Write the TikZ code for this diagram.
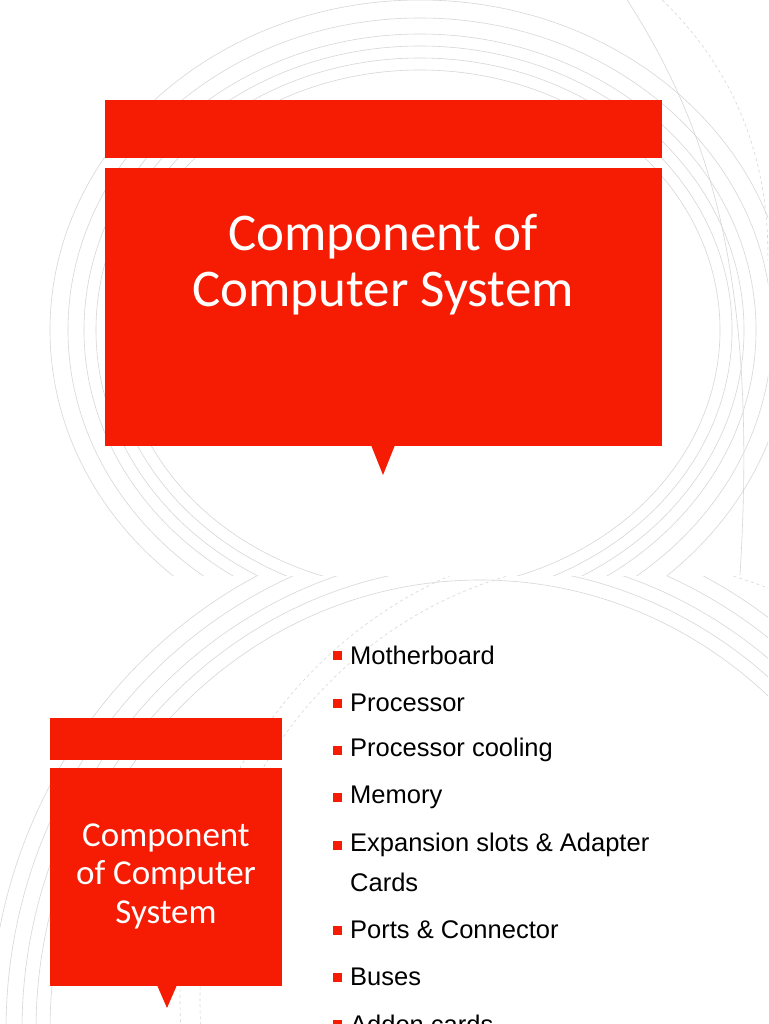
\documentclass[tikz,border=0pt]{standalone}
\usepackage{fontspec}
\setmainfont{Liberation Sans}
\newfontfamily\titlefont{Carlito}
\definecolor{slidered}{RGB}{246,28,4}
\definecolor{curve}{RGB}{215,215,215}
\begin{document}
\begin{tikzpicture}[x=1pt,y=-1pt,
  redbox/.style={fill=slidered,draw=none},
  bg/.style={draw=curve,line width=0.6pt},
  bullet/.style={anchor=west,font=\fontsize{25.5}{30}\selectfont,inner sep=0pt},
  sq/.style={fill=slidered,minimum size=9pt,inner sep=0pt}]
\useasboundingbox (0,0) rectangle (768,1024);
\fill[white] (0,0) rectangle (768,1024);
% background curves top slide
\begin{scope}
\clip (0,0) rectangle (768,575);
\foreach \r in {0,12,24,36,52,70}{
  \draw[bg] (420,330) ellipse ({300+\r} and {260+\r});
}
\draw[bg] (600,-40) .. controls (700,100) and (760,250) .. (740,575);
\draw[bg,dashed] (640,-20) .. controls (760,80) and (768,200) .. (768,260);
\end{scope}
% background curves bottom slide
\begin{scope}
\clip (0,576) rectangle (768,1024);
\foreach \r in {0,14,28,44,60}{
  \draw[bg] (480,1030) ellipse ({430+\r} and {450+\r});
}
\foreach \r in {0,20}{
  \draw[bg,dashed] (620,1000) ellipse ({420+\r} and {440+\r});
}
\end{scope}
% top slide
\node[redbox,minimum width=557,minimum height=58,inner sep=0,anchor=north west] (band1) at (105,100) {};
\node[redbox,minimum width=557,minimum height=278,inner sep=0,anchor=north west] (box1) at (105,168) {};
\fill[slidered] (371,445) -- (395,445) -- (383,475) -- cycle;
\node[text=white,font=\titlefont\fontsize{53}{56}\selectfont,align=center] (t1) at (383,265) {Component of\\Computer System};
% bottom slide
\node[redbox,minimum width=232,minimum height=42,inner sep=0,anchor=north west] (band2) at (50,718) {};
\node[redbox,minimum width=232,minimum height=218,inner sep=0,anchor=north west] (box2) at (50,768) {};
\fill[slidered] (157,985) -- (177,985) -- (167,1008) -- cycle;
\node[text=white,font=\titlefont\fontsize{35}{38.5}\selectfont,align=center] (t2) at (166,876) {Component\\of Computer\\System};
\foreach \y/\t [count=\i] in {655/Motherboard,703/Processor,750/Processor cooling,797/Memory,845/Expansion slots \& Adapter,930/Ports \& Connector,977/Buses,1024/Addon cards}{
  \node[sq] (s\i) at (337,\y) {};
  \node[bullet] (b\i) at (350,\y) {\t};
}
\node[bullet] (b5b) at (350,882) {Cards};
\end{tikzpicture}
\end{document}
